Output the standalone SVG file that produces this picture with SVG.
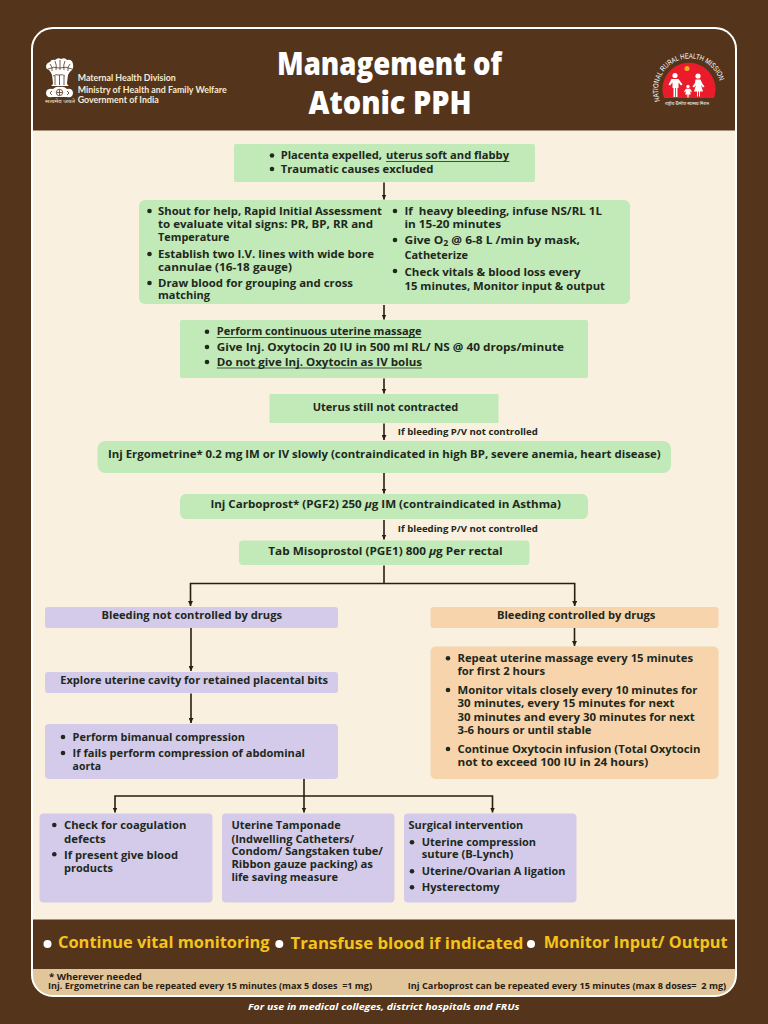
<svg xmlns="http://www.w3.org/2000/svg" width="768" height="1024" viewBox="0 0 768 1024">
<style>
text{font-family:"Open Sans","Liberation Sans",sans-serif;font-weight:700;font-size:11px;fill:#20281c;white-space:pre}
.g{fill:#c2e9b8}.p{fill:#d4cae9}.o{fill:#f8d4ac}
.b{fill:#20281c}
.c{fill:none;stroke:#2a1d12;stroke-width:1.6}
.a{marker-end:url(#ah)}
.u{stroke:#20281c;stroke-width:.8}
.lbl{font-size:9.5px}
.t{font-size:32px;font-weight:800;fill:#fff}
.h{font-family:"Lato","Open Sans",sans-serif;font-size:8.5px;fill:#f4ead8}
.y{font-size:16.5px;fill:#f5c31c}
.f{font-size:9px;fill:#2a1d12}
.w{fill:#fff}
.e{fill:none;stroke:#54351b;stroke-width:.8}
</style>
<defs>
<marker id="ah" markerUnits="userSpaceOnUse" markerWidth="6" markerHeight="5" refX="5" refY="2.500" orient="auto"><path d="M0 0L5 2.500L0 5Z" fill="#2a1d12"/></marker>
<path id="arc" d="M660 101A31.500 31.500 0 1 1 719 101"/>
</defs>
<rect width="768" height="1024" fill="#54351b"/>
<g id="panel">
<rect x="32" y="28" width="704" height="968" rx="21" fill="#f9f0e0" stroke="#fff" stroke-width="2"/>
<path d="M33 130.500V49a20 20 0 0 1 20-20H715a20 20 0 0 1 20 20V130.500Z" fill="#54351b"/>
<rect x="33" y="919.500" width="702" height="49.500" fill="#54351b"/>
<path d="M33 969H735V975a20 20 0 0 1-20 20H53a20 20 0 0 1-20-20Z" fill="#e2c69b"/>
</g>
<g id="header">
<text class="t" x="277" y="75" textLength="225" lengthAdjust="spacingAndGlyphs">Management of</text>
<text class="t" x="308.500" y="114" textLength="163" lengthAdjust="spacingAndGlyphs">Atonic PPH</text>
<text class="h" x="77.700" y="81" textLength="98" lengthAdjust="spacingAndGlyphs">Maternal Health Division</text>
<text class="h" x="77.700" y="92.700" textLength="149" lengthAdjust="spacingAndGlyphs">Ministry of Health and Family Welfare</text>
<text class="h" x="77.700" y="102.500" textLength="81" lengthAdjust="spacingAndGlyphs">Government of India</text>
</g>
<g id="emblem">
<path class="w" d="M46 67q0-4 4-5q1-3 5-2q3-3 6-1q4-2 6 1q5-1 6 4q1 3-1 6q-3 2-4 5l-1 8q0 2 2 3H51q2-1 2-3l-1-8q-1-3-3-5q-3-1-3-3Z"/>
<path class="e" d="M50 64q3 3 2 7M55 61q2 4 1 9M60 60v10M65 61q-2 4-1 9M70 64q-3 3-2 7M48 69q6-3 11-1q7-2 13 1M53 76q3-2 6-1q4-1 6 1M55 76v9M59.500 75v10M64 76v9"/>
<path class="w" d="M47 90q3-2 6-1q3-3 7-2q4-1 7 2q3-1 5 1q2 3 0 6q-2 2-5 1H52q-3 1-5-1q-2-3 0-6Z"/>
<circle class="e" cx="59.500" cy="92.500" r="3.200"/>
<path class="e" d="M52 91l-2 2 2 2M67 91l2 2-2 2M59.500 89.500v6M56.500 92.500h6"/>
<text x="45" y="103" style="font-size:5px;font-weight:400;fill:#f4ead8;font-family:'Noto Sans',sans-serif" textLength="30" lengthAdjust="spacingAndGlyphs">सत्यमेव जयते</text>
</g>
<g id="nrhm-logo">
<path d="M664 98A26.500 26.500 0 1 1 714 98Z" fill="#ea1c2b"/>
<circle cx="687" cy="68.500" r="2.500" fill="#f7a823"/>
<text style="font-size:7.500px;font-weight:400;fill:#fff;font-family:'Liberation Sans',sans-serif"><textPath href="#arc" textLength="101" lengthAdjust="spacingAndGlyphs">NATIONAL RURAL HEALTH MISSION</textPath></text>
<g class="w">
<circle cx="675" cy="75.500" r="2.600"/><path d="M671.500 79h7l4 5.500-1.500 1-2.500-3V88h-1v9h-1.600v-9h-.8v9h-1.600v-9h-1v-5.500l-2.500 3-1.500-1Z"/>
<circle cx="698" cy="76" r="2.600"/><path d="M695.500 79.500h5l1.500 3.500 2.500 3.500-1.500 1-2-2.500 2 6.500h-3v5h-1v-5h-1v5h-1v-5h-3l2-6.500-2 2.500-1.500-1 2.500-3.500Z"/>
<circle cx="688" cy="86.500" r="1.700"/><path d="M686 88.800h4l2 2.700-.8.800-1.200-1.300.8 3.500h-1.700v3h-.7v-3h-.8v3h-.7v-3h-1.700l.8-3.500-1.200 1.300-.8-.8Z"/>
</g>
<text x="665" y="104.500" style="font-size:5px;font-weight:400;fill:#fff;font-family:'Noto Sans',sans-serif" textLength="44" lengthAdjust="spacingAndGlyphs">राष्ट्रीय ग्रामीण स्वास्थ्य मिशन</text>
</g>
<g id="connectors">
<path class="c a" d="M384 182.500V199.500"/>
<path class="c a" d="M384 305V319.500"/>
<path class="c a" d="M384 378.500V393.500"/>
<path class="c a" d="M384 423.500V440"/>
<path class="c a" d="M384 473V493.500"/>
<path class="c a" d="M384 520V539.500"/>
<path class="c" d="M384 565.500V583.500"/>
<path class="c a" d="M384 583.500H190.500V606"/>
<path class="c a" d="M384 583.500H574.700V606"/>
<path class="c a" d="M191 628V671"/>
<path class="c a" d="M191 693.500V723"/>
<path class="c a" d="M574.500 628V646"/>
<path class="c a" d="M304 779V812.500"/>
<path class="c a" d="M304 796H115V812.500"/>
<path class="c a" d="M304 796H492.500V812.500"/>
</g>
<g id="n1"><rect class="g" x="234" y="144" width="301" height="38" rx="2"/>
<circle class="b" cx="272" cy="155.500" r="2.300"/><circle class="b" cx="272" cy="169" r="2.300"/>
<text x="280.700" y="159" textLength="101.300" lengthAdjust="spacingAndGlyphs">Placenta expelled,</text>
<text x="386" y="159" textLength="123" lengthAdjust="spacingAndGlyphs">uterus soft and flabby</text>
<path class="u" d="M386 161.500H509.500"/>
<text x="280.700" y="173" textLength="152.700" lengthAdjust="spacingAndGlyphs">Traumatic causes excluded</text></g>
<g id="n2"><rect class="g" x="139" y="200" width="491" height="104" rx="6"/>
<circle class="b" cx="149.500" cy="211" r="2.300"/><circle class="b" cx="149.500" cy="254" r="2.300"/><circle class="b" cx="149.500" cy="283" r="2.300"/>
<circle class="b" cx="395" cy="211" r="2.300"/><circle class="b" cx="395" cy="240" r="2.300"/><circle class="b" cx="395" cy="271" r="2.300"/>
<text x="158" y="215" textLength="224" lengthAdjust="spacingAndGlyphs">Shout for help, Rapid Initial Assessment</text>
<text x="158" y="228" textLength="215" lengthAdjust="spacingAndGlyphs">to evaluate vital signs: PR, BP, RR and</text>
<text x="158" y="241" textLength="71.500" lengthAdjust="spacingAndGlyphs">Temperature</text>
<text x="158" y="258" textLength="216" lengthAdjust="spacingAndGlyphs">Establish two I.V. lines with wide bore</text>
<text x="158" y="270.500" textLength="134" lengthAdjust="spacingAndGlyphs">cannulae (16-18 gauge)</text>
<text x="158" y="287" textLength="195" lengthAdjust="spacingAndGlyphs">Draw blood for grouping and cross</text>
<text x="158" y="299" textLength="52" lengthAdjust="spacingAndGlyphs">matching</text>
<text x="404.500" y="215" textLength="197.500" lengthAdjust="spacingAndGlyphs">If  heavy bleeding, infuse NS/RL 1L</text>
<text x="404.500" y="228" textLength="96.500" lengthAdjust="spacingAndGlyphs">in 15-20 minutes</text>
<text x="404.500" y="244" textLength="175.500" lengthAdjust="spacingAndGlyphs">Give O<tspan dy="2" style="font-size:8px">2</tspan><tspan dy="-2"> @ 6-8 L /min by mask,</tspan></text>
<text x="404.500" y="259" textLength="63.500" lengthAdjust="spacingAndGlyphs">Catheterize</text>
<text x="404.500" y="276" textLength="176" lengthAdjust="spacingAndGlyphs">Check vitals &amp; blood loss every</text>
<text x="404.500" y="289.500" textLength="200.500" lengthAdjust="spacingAndGlyphs">15 minutes, Monitor input &amp; output</text></g>
<g id="n3"><rect class="g" x="180" y="320" width="408" height="58" rx="2"/>
<circle class="b" cx="207" cy="331.700" r="2.300"/><circle class="b" cx="207" cy="347" r="2.300"/><circle class="b" cx="207" cy="362" r="2.300"/>
<text x="216.800" y="335" textLength="204.700" lengthAdjust="spacingAndGlyphs">Perform continuous uterine massage</text>
<path class="u" d="M216.800 337.500H421.500"/>
<text x="216.800" y="351" textLength="347.200" lengthAdjust="spacingAndGlyphs">Give Inj. Oxytocin 20 IU in 500 ml RL/ NS @ 40 drops/minute</text>
<text x="216.800" y="366" textLength="205.200" lengthAdjust="spacingAndGlyphs">Do not give Inj. Oxytocin as IV bolus</text>
<path class="u" d="M216.800 368H422"/></g>
<g id="n4"><rect class="g" x="269.500" y="394" width="229" height="29" rx="1"/>
<text x="312.700" y="411.300" textLength="145.600" lengthAdjust="spacingAndGlyphs">Uterus still not contracted</text></g>
<text class="lbl" x="397.800" y="434.700" textLength="140" lengthAdjust="spacingAndGlyphs">If bleeding P/V not controlled</text>
<g id="n5"><rect class="g" x="97.500" y="441" width="573.500" height="32" rx="8"/>
<text x="108" y="458.300" textLength="552.700" lengthAdjust="spacingAndGlyphs">Inj Ergometrine* 0.2 mg IM or IV slowly (contraindicated in high BP, severe anemia, heart disease)</text></g>
<g id="n6"><rect class="g" x="180" y="494" width="408" height="25" rx="6"/>
<text x="210.400" y="508" textLength="350.600" lengthAdjust="spacingAndGlyphs">Inj Carboprost* (PGF2) 250 <tspan font-style="italic">μ</tspan>g IM (contraindicated in Asthma)</text></g>
<text class="lbl" x="397.800" y="532.300" textLength="140" lengthAdjust="spacingAndGlyphs">If bleeding P/V not controlled</text>
<g id="n7"><rect class="g" x="239" y="540.500" width="290.500" height="24.500" rx="4"/>
<text x="268.300" y="554.700" textLength="234.400" lengthAdjust="spacingAndGlyphs">Tab Misoprostol (PGE1) 800 <tspan font-style="italic">μ</tspan>g Per rectal</text></g>
<g id="n8"><rect class="p" x="45" y="607" width="293" height="21" rx="3"/>
<text x="101.600" y="619.300" textLength="180.400" lengthAdjust="spacingAndGlyphs">Bleeding not controlled by drugs</text></g>
<g id="n9"><rect class="o" x="430.500" y="607" width="288" height="21" rx="3"/>
<text x="497" y="619.300" textLength="158.400" lengthAdjust="spacingAndGlyphs">Bleeding controlled by drugs</text></g>
<g id="n10"><rect class="p" x="45" y="672" width="293" height="21" rx="3"/>
<text x="60.300" y="684.300" textLength="267.700" lengthAdjust="spacingAndGlyphs">Explore uterine cavity for retained placental bits</text></g>
<g id="n11"><rect class="p" x="45" y="724" width="293" height="55" rx="4"/>
<circle class="b" cx="63" cy="737" r="2.300"/><circle class="b" cx="63" cy="753" r="2.300"/>
<text x="72.600" y="740.700" textLength="172.400" lengthAdjust="spacingAndGlyphs">Perform bimanual compression</text>
<text x="72.600" y="757" textLength="232.400" lengthAdjust="spacingAndGlyphs">If fails perform compression of abdominal</text>
<text x="72.600" y="770.300" textLength="28.400" lengthAdjust="spacingAndGlyphs">aorta</text></g>
<g id="n12"><rect class="o" x="430.500" y="646.500" width="288" height="132.500" rx="5"/>
<circle class="b" cx="448" cy="658.300" r="2.300"/><circle class="b" cx="448" cy="690" r="2.300"/><circle class="b" cx="448" cy="749" r="2.300"/>
<text x="457.500" y="662.300" textLength="235.500" lengthAdjust="spacingAndGlyphs">Repeat uterine massage every 15 minutes</text>
<text x="457.500" y="675.300" textLength="87.500" lengthAdjust="spacingAndGlyphs">for first 2 hours</text>
<text x="457.500" y="694" textLength="240" lengthAdjust="spacingAndGlyphs">Monitor vitals closely every 10 minutes for</text>
<text x="457.500" y="707.300" textLength="217" lengthAdjust="spacingAndGlyphs">30 minutes, every 15 minutes for next</text>
<text x="457.500" y="720.700" textLength="237.300" lengthAdjust="spacingAndGlyphs">30 minutes and every 30 minutes for next</text>
<text x="457.500" y="734" textLength="134" lengthAdjust="spacingAndGlyphs">3-6 hours or until stable</text>
<text x="457.500" y="752.700" textLength="242.800" lengthAdjust="spacingAndGlyphs">Continue Oxytocin infusion (Total Oxytocin</text>
<text x="457.500" y="766" textLength="190.700" lengthAdjust="spacingAndGlyphs">not to exceed 100 IU in 24 hours)</text></g>
<g id="n13"><rect class="p" x="39.500" y="813.500" width="173" height="89" rx="4"/>
<circle class="b" cx="54.300" cy="825" r="2.300"/><circle class="b" cx="54.300" cy="854.300" r="2.300"/>
<text x="64" y="829.300" textLength="122.400" lengthAdjust="spacingAndGlyphs">Check for coagulation</text>
<text x="64" y="842.700" textLength="41.700" lengthAdjust="spacingAndGlyphs">defects</text>
<text x="64" y="858.700" textLength="114" lengthAdjust="spacingAndGlyphs">If present give blood</text>
<text x="64" y="871.700" textLength="48.900" lengthAdjust="spacingAndGlyphs">products</text></g>
<g id="n14"><rect class="p" x="222" y="813.500" width="172.500" height="89" rx="4"/>
<text x="231.400" y="829.300" textLength="109.300" lengthAdjust="spacingAndGlyphs">Uterine Tamponade</text>
<text x="231.400" y="842.700" textLength="122.600" lengthAdjust="spacingAndGlyphs">(Indwelling Catheters/</text>
<text x="231.400" y="855.300" textLength="151.600" lengthAdjust="spacingAndGlyphs">Condom/ Sangstaken tube/</text>
<text x="231.400" y="868" textLength="141.600" lengthAdjust="spacingAndGlyphs">Ribbon gauze packing) as</text>
<text x="231.400" y="880.700" textLength="106.500" lengthAdjust="spacingAndGlyphs">life saving measure</text></g>
<g id="n15"><rect class="p" x="404" y="813.500" width="172.500" height="89" rx="4"/>
<text x="408.600" y="829.300" textLength="114.600" lengthAdjust="spacingAndGlyphs">Surgical intervention</text>
<circle class="b" cx="412" cy="842.300" r="2.300"/><circle class="b" cx="412" cy="871.300" r="2.300"/><circle class="b" cx="412" cy="887.300" r="2.300"/>
<text x="421.800" y="846" textLength="114.200" lengthAdjust="spacingAndGlyphs">Uterine compression</text>
<text x="421.800" y="858.300" textLength="91.400" lengthAdjust="spacingAndGlyphs">suture (B-Lynch)</text>
<text x="421.800" y="875.300" textLength="143.600" lengthAdjust="spacingAndGlyphs">Uterine/Ovarian A ligation</text>
<text x="421.800" y="891.300" textLength="77.800" lengthAdjust="spacingAndGlyphs">Hysterectomy</text></g>
<g id="band">
<circle cx="47.500" cy="944" r="4" fill="#fff"/><circle cx="279.300" cy="944" r="4" fill="#fff"/><circle cx="531" cy="944" r="4" fill="#fff"/>
<text class="y" x="58" y="947.700" textLength="211.500" lengthAdjust="spacingAndGlyphs">Continue vital monitoring</text>
<text class="y" x="290.500" y="949.300" textLength="232.800" lengthAdjust="spacingAndGlyphs">Transfuse blood if indicated</text>
<text class="y" x="543.700" y="947.700" textLength="183.900" lengthAdjust="spacingAndGlyphs">Monitor Input/ Output</text>
</g>
<g id="footnotes">
<text class="f" x="48.900" y="979.700" textLength="93" lengthAdjust="spacingAndGlyphs">* Wherever needed</text>
<text class="f" x="48" y="989.300" textLength="324" lengthAdjust="spacingAndGlyphs">Inj. Ergometrine can be repeated every 15 minutes (max 5 doses  =1 mg)</text>
<text class="f" x="407.800" y="989.300" textLength="318.400" lengthAdjust="spacingAndGlyphs">Inj Carboprost can be repeated every 15 minutes (max 8 doses=  2 mg)</text>
<text x="248" y="1009.700" font-style="italic" style="font-size:9.500px;fill:#fff" textLength="271.500" lengthAdjust="spacingAndGlyphs">For use in medical colleges, district hospitals and FRUs</text>
</g>
</svg>
